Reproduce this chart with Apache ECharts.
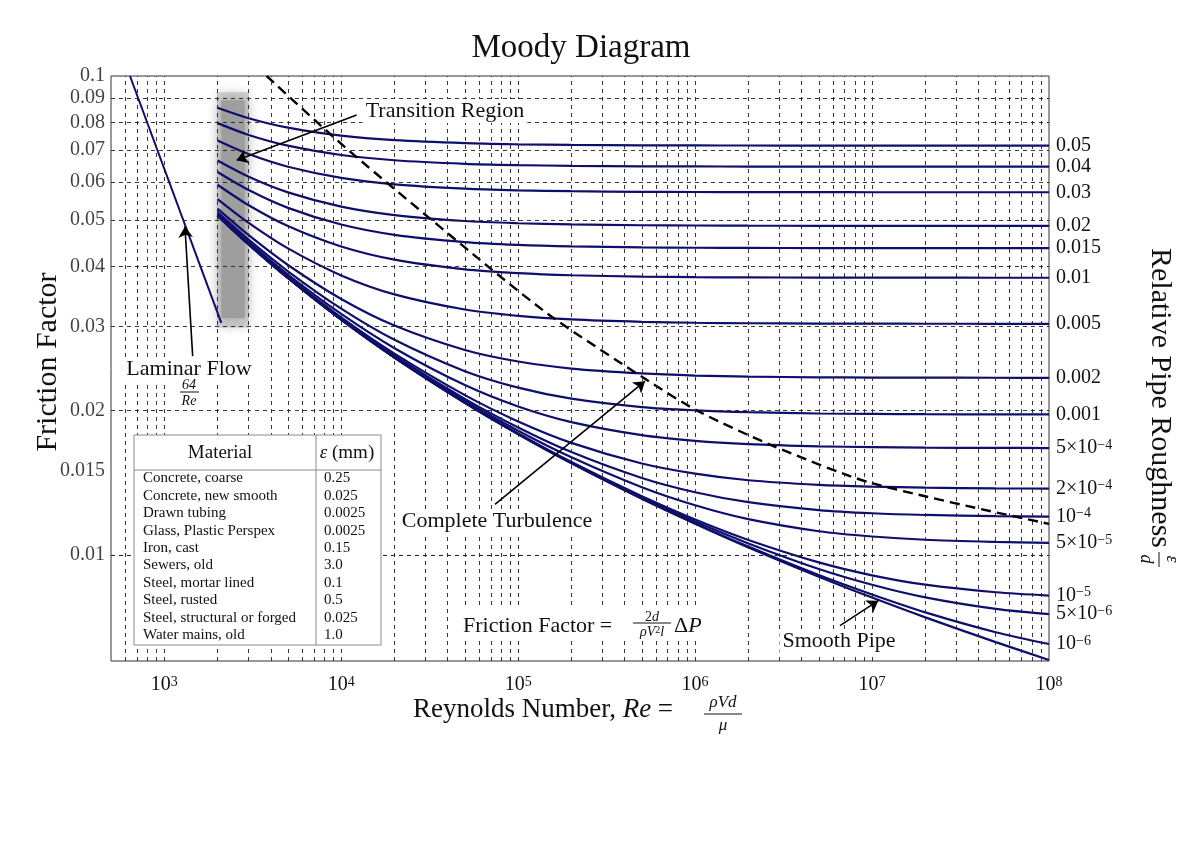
<!doctype html>
<html>
<head>
  <meta charset="utf-8">
  <title>Moody Diagram</title>
  <script src="https://cdn.jsdelivr.net/npm/echarts@6/dist/echarts.min.js"></script>
</head>
<body style="margin:0;background:#fff">
  <div id="main" style="width:1200px;height:849px;"></div>
  <script>
  var reynolds = [2e3, 3e3, 5e3, 1e4, 2e4, 5e4, 1e5, 2e5, 5e5, 1e6, 2e6, 5e6, 1e7, 2e7, 5e7, 1e8];

  var f_005   = [0.08583, 0.08161, 0.07799, 0.07504, 0.07343, 0.07238, 0.07200, 0.07179, 0.07166, 0.07161, 0.07158, 0.07156, 0.07155, 0.07155, 0.07155, 0.07155];
  var f_004   = [0.07972, 0.07532, 0.07152, 0.06840, 0.06669, 0.06556, 0.06515, 0.06493, 0.06478, 0.06473, 0.06470, 0.06469, 0.06468, 0.06467, 0.06467, 0.06467];
  var f_003   = [0.07334, 0.06870, 0.06464, 0.06127, 0.05940, 0.05816, 0.05770, 0.05746, 0.05730, 0.05724, 0.05721, 0.05719, 0.05718, 0.05717, 0.05717, 0.05717];
  var f_002   = [0.06658, 0.06159, 0.05714, 0.05336, 0.05123, 0.04979, 0.04926, 0.04897, 0.04878, 0.04872, 0.04868, 0.04866, 0.04865, 0.04864, 0.04864, 0.04864];
  var f_0015  = [0.06302, 0.05778, 0.05304, 0.04895, 0.04659, 0.04499, 0.04439, 0.04407, 0.04386, 0.04378, 0.04374, 0.04371, 0.04370, 0.04369, 0.04369, 0.04369];
  var f_001   = [0.05928, 0.05372, 0.04860, 0.04404, 0.04134, 0.03946, 0.03875, 0.03836, 0.03811, 0.03801, 0.03796, 0.03793, 0.03792, 0.03791, 0.03790, 0.03790];
  var f_0005  = [0.05533, 0.04934, 0.04364, 0.03833, 0.03499, 0.03253, 0.03156, 0.03102, 0.03066, 0.03052, 0.03045, 0.03040, 0.03039, 0.03038, 0.03037, 0.03037];
  var f_0002  = [0.05283, 0.04650, 0.04030, 0.03422, 0.03011, 0.02677, 0.02533, 0.02449, 0.02392, 0.02368, 0.02356, 0.02348, 0.02345, 0.02344, 0.02343, 0.02342];
  var f_0001  = [0.05197, 0.04551, 0.03910, 0.03267, 0.02812, 0.02418, 0.02234, 0.02119, 0.02035, 0.02003, 0.01985, 0.01973, 0.01969, 0.01966, 0.01965, 0.01964];
  var f_5e4   = [0.05153, 0.04500, 0.03848, 0.03184, 0.02701, 0.02262, 0.02041, 0.01893, 0.01778, 0.01730, 0.01703, 0.01685, 0.01679, 0.01674, 0.01672, 0.01671];
  var f_2e4   = [0.05127, 0.04470, 0.03810, 0.03132, 0.02631, 0.02155, 0.01899, 0.01713, 0.01551, 0.01477, 0.01431, 0.01400, 0.01388, 0.01381, 0.01376, 0.01375];
  var f_1e4   = [0.05118, 0.04459, 0.03797, 0.03115, 0.02606, 0.02117, 0.01845, 0.01639, 0.01447, 0.01351, 0.01288, 0.01240, 0.01221, 0.01211, 0.01204, 0.01201];
  var f_5e5   = [0.05114, 0.04454, 0.03791, 0.03106, 0.02594, 0.02097, 0.01816, 0.01598, 0.01384, 0.01269, 0.01187, 0.01120, 0.01092, 0.01075, 0.01064, 0.01059];
  var f_1e5   = [0.05110, 0.04450, 0.03786, 0.03099, 0.02584, 0.02080, 0.01792, 0.01562, 0.01325, 0.01185, 0.01074, 0.00964, 0.00906, 0.00866, 0.00835, 0.00822];
  var f_5e6   = [0.05110, 0.04449, 0.03785, 0.03098, 0.02583, 0.02078, 0.01789, 0.01558, 0.01317, 0.01173, 0.01056, 0.00934, 0.00866, 0.00815, 0.00771, 0.00752];
  var f_1e6   = [0.05109, 0.04449, 0.03785, 0.03097, 0.02582, 0.02077, 0.01787, 0.01554, 0.01311, 0.01163, 0.01040, 0.00907, 0.00826, 0.00758, 0.00689, 0.00651];
  var f_smooth = [0.05109, 0.04449, 0.03785, 0.03097, 0.02581, 0.02076, 0.01786, 0.01553, 0.01309, 0.01161, 0.01036, 0.00900, 0.00814, 0.00740, 0.00657, 0.00603];

  var roughnessLabels = ['0.05', '0.04', '0.03', '0.02', '0.015', '0.01', '0.005', '0.002', '0.001',
    '5×10{s|−4}', '2×10{s|−4}', '10{s|−4}', '5×10{s|−5}', '10{s|−5}', '5×10{s|−6}', '10{s|−6}'];

  var laminarRe = [640, 2100];
  var laminarF = [0.1, 0.0305];

  // dashed boundary of complete turbulence
  var turbRe = [3790, 10700, 69300, 157000, 532000, 1.04e6, 2.77e6, 9.74e6, 1e8];
  var turbF = [0.1, 0.0706, 0.0397, 0.0313, 0.0232, 0.01995, 0.01687, 0.01415, 0.0116];

  // shaded transition band: soft halo and darker core
  var bandOuterRe = [1980, 3000];
  var bandOuterF = [0.0298, 0.0925];
  var bandRe = [2100, 2850];
  var bandF = [0.0312, 0.0890];

  var yTicks = [0.1, 0.09, 0.08, 0.07, 0.06, 0.05, 0.04, 0.03, 0.02, 0.015, 0.01];
  var yTickLabels = ['0.1', '0.09', '0.08', '0.07', '0.06', '0.05', '0.04', '0.03', '0.02', '0.015', '0.01'];
  var yGrid = [0.09, 0.08, 0.07, 0.06, 0.05, 0.04, 0.03, 0.02, 0.015, 0.01, 0.009, 0.008, 0.007];

  var arrowFrom = [[12230, 0.0829], [1447, 0.0260], [73960, 0.01275], [6.59e6, 0.00711]];
  var arrowTo = [[2566, 0.0667], [1309, 0.0485], [521000, 0.02305], [1.084e7, 0.00802]];

  var materials = ['Concrete, coarse', 'Concrete, new smooth', 'Drawn tubing', 'Glass, Plastic Perspex',
    'Iron, cast', 'Sewers, old', 'Steel, mortar lined', 'Steel, rusted', 'Steel, structural or forged', 'Water mains, old'];
  var epsilonMM = ['0.25', '0.025', '0.0025', '0.0025', '0.15', '3.0', '0.1', '0.5', '0.025', '1.0'];

  var curves = [f_005, f_004, f_003, f_002, f_0015, f_001, f_0005, f_0002, f_0001,
    f_5e4, f_2e4, f_1e4, f_5e5, f_1e5, f_5e6, f_1e6];

  var serif = 'Liberation Serif';
  var navy = '#0e0e6c';

  var xGrid = [];
  [100, 1e3, 1e4, 1e5, 1e6, 1e7].forEach(function (d) {
    for (var k = 1; k <= 9; k++) {
      var v = d * k;
      if (v > 500 && v < 1e8) xGrid.push(v);
    }
  });

  function pairs(xs, ys) {
    return xs.map(function (x, i) { return [x, ys[i]]; });
  }

  var series = [];

  // gridlines and left tick labels
  series.push({
    type: 'scatter',
    z: 1,
    clip: false,
    silent: true,
    symbolSize: 0,
    data: yTicks.map(function (v) { return [500, v]; }),
    label: {
      show: true,
      position: 'left',
      distance: 6,
      fontFamily: serif,
      fontSize: 20,
      color: '#111',
      formatter: function (p) { return yTickLabels[p.dataIndex]; }
    },
    markLine: {
      silent: true,
      animation: false,
      symbol: ['none', 'none'],
      label: { show: false },
      lineStyle: { color: '#222', width: 0.9, type: [4, 4] },
      data: xGrid.map(function (v) { return { xAxis: v }; })
        .concat(yGrid.map(function (v) { return { yAxis: v }; }))
    }
  });

  // transition band
  series.push({
    type: 'line',
    z: 2,
    silent: true,
    data: [],
    markArea: {
      silent: true,
      itemStyle: { color: 'rgba(160,160,160,0.45)', shadowBlur: 10, shadowColor: 'rgba(160,160,160,0.6)' },
      data: [[{ coord: [bandOuterRe[0], bandOuterF[0]] }, { coord: [bandOuterRe[1], bandOuterF[1]] }]]
    }
  });
  series.push({
    type: 'line',
    z: 2,
    silent: true,
    data: [],
    markArea: {
      silent: true,
      itemStyle: { color: '#9e9e9e', shadowBlur: 14, shadowColor: '#a8a8a8' },
      data: [[{ coord: [bandRe[0], bandF[0]] }, { coord: [bandRe[1], bandF[1]] }]]
    }
  });

  curves.forEach(function (c, i) {
    series.push({
      type: 'line',
      z: 3,
      data: pairs(reynolds, c),
      showSymbol: false,
      smooth: 0.3,
      lineStyle: { color: navy, width: 2.2 },
      endLabel: {
        show: true,
        distance: 7,
        formatter: roughnessLabels[i],
        fontFamily: serif,
        fontSize: 20,
        color: '#111',
        rich: { s: { fontFamily: serif, fontSize: 14, color: '#111', verticalAlign: 'top' } }
      }
    });
  });

  series.push({
    type: 'line', z: 3, data: pairs(reynolds, f_smooth), showSymbol: false,
    smooth: 0.3, lineStyle: { color: navy, width: 2.2 }
  });

  series.push({
    type: 'line', z: 3, data: pairs(laminarRe, laminarF), showSymbol: false,
    lineStyle: { color: navy, width: 2 }
  });

  series.push({
    type: 'line', z: 3, data: pairs(turbRe, turbF), showSymbol: false,
    smooth: 0.25,
    lineStyle: { color: '#000', width: 2.4, type: [10, 6] }
  });

  // annotation arrows
  series.push({
    type: 'line',
    z: 4,
    data: [],
    markLine: {
      silent: true,
      animation: false,
      symbol: ['none', 'arrow'],
      symbolSize: 11,
      label: { show: false },
      lineStyle: { color: '#000', width: 1.6, type: 'solid' },
      data: arrowFrom.map(function (p, i) { return [{ coord: p }, { coord: arrowTo[i] }]; })
    }
  });

  function txt(x, y, text, size, extra) {
    var st = { text: text, fontFamily: serif, fontSize: size, fill: '#111', align: 'center', verticalAlign: 'middle' };
    for (var k in extra) st[k] = extra[k];
    return { type: 'text', x: x, y: y, z: 20, style: st };
  }
  function seg(x1, y1, x2, y2, color) {
    return { type: 'line', z: 20, shape: { x1: x1, y1: y1, x2: x2, y2: y2 }, style: { stroke: color || '#111', lineWidth: 1 } };
  }

  var italic = function (size) { return { fontFamily: serif, fontSize: size, fontStyle: 'italic', fill: '#111' }; };
  var bgBox = { backgroundColor: '#fff', padding: [1, 3] };

  var graphics = [
    txt(581, 48, 'Moody Diagram', 33),
    txt(48, 362, 'Friction Factor', 30, {}),
    txt(1160, 398, 'Relative Pipe Roughness', 30, {}),
    txt(1172, 559, 'ε', 18, { fontStyle: 'italic' }),
    txt(1146, 559, 'd', 18, { fontStyle: 'italic' }),
    seg(1159, 552, 1159, 567),
    txt(413, 710, 'Reynolds Number, {i|Re} =', 27, { align: 'left', rich: { i: italic(27) } }),
    txt(723, 703, 'ρVd', 17, { fontStyle: 'italic' }),
    seg(704, 714, 742, 714),
    txt(723, 726, 'μ', 17, { fontStyle: 'italic' }),
    txt(445, 111, 'Transition Region', 22, bgBox),
    txt(189, 369, 'Laminar Flow', 22, bgBox),
    txt(189, 385, '64', 14, { fontStyle: 'italic' }),
    seg(180, 392, 199, 392),
    txt(189, 401, 'Re', 14, { fontStyle: 'italic' }),
    txt(497, 521, 'Complete Turbulence', 22, bgBox),
    txt(839, 641, 'Smooth Pipe', 22, bgBox),
    { type: 'rect', z: 19, shape: { x: 460, y: 609, width: 252, height: 31 }, style: { fill: '#fff' } },
    txt(463, 626, 'Friction Factor =', 22, { align: 'left' }),
    txt(652, 617, '2{i|d}', 14, { rich: { i: italic(14) } }),
    seg(633, 623, 671, 623),
    txt(652, 632, '{i|ρV}{s|2}{i|l}', 14, { rich: { i: italic(14), s: { fontFamily: serif, fontSize: 10, fill: '#111', verticalAlign: 'top' } } }),
    txt(674, 626, 'Δ{i|P}', 22, { align: 'left', rich: { i: italic(22) } }),
    { type: 'rect', z: 19, shape: { x: 134, y: 435, width: 247, height: 210 }, style: { fill: '#fff', stroke: '#8a8a8a', lineWidth: 1 } },
    seg(134, 470, 381, 470, '#8a8a8a'),
    seg(316, 435, 316, 645, '#8a8a8a'),
    txt(220, 453, 'Material', 19),
    txt(347, 453, '{i|ε} (mm)', 19, { rich: { i: italic(19) } })
  ];
  // rotate the vertical titles
  graphics[1].rotation = Math.PI / 2;
  graphics[2].rotation = -Math.PI / 2;
  graphics[3].rotation = -Math.PI / 2;
  graphics[4].rotation = -Math.PI / 2;

  materials.forEach(function (m, i) {
    var y = 478.5 + i * 17.4;
    graphics.push(txt(143, y, m, 15, { align: 'left' }));
    graphics.push(txt(324, y, epsilonMM[i], 15, { align: 'left' }));
  });

  var option = {
    animation: false,
    backgroundColor: '#fff',
    grid: {
      left: 111, top: 76, width: 938, height: 585,
      show: true, borderColor: '#333', borderWidth: 1,
      containLabel: false, outerBoundsMode: 'none'
    },
    xAxis: {
      type: 'log',
      logBase: 10,
      min: 500,
      max: 1e8,
      axisLine: { show: false },
      axisTick: { show: false },
      splitLine: { show: false },
      axisLabel: {
        margin: 14,
        fontFamily: serif,
        fontSize: 20,
        color: '#111',
        formatter: function (v) {
          var e = Math.log10(v);
          if (Math.abs(e - Math.round(e)) > 1e-6) return '';
          return '10{s|' + Math.round(e) + '}';
        },
        rich: { s: { fontFamily: serif, fontSize: 14, color: '#111', verticalAlign: 'top' } }
      }
    },
    yAxis: {
      type: 'log',
      logBase: 10,
      min: 0.006,
      max: 0.1,
      axisLine: { show: false },
      axisTick: { show: false },
      splitLine: { show: false },
      axisLabel: { show: false }
    },
    graphic: graphics,
    series: series
  };

  var myChart = echarts.init(document.getElementById('main'));
  myChart.setOption(option);
  </script>
</body>
</html>
